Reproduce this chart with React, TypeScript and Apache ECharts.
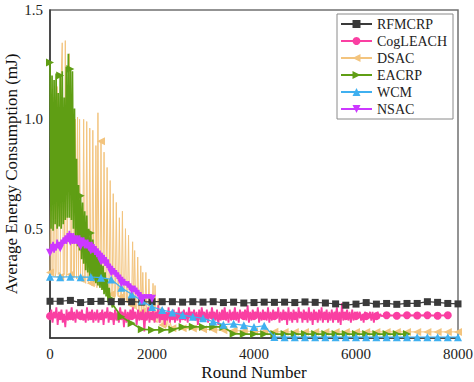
import React, { useEffect, useRef } from "react";
import * as echarts from "echarts";

// ---------- data ----------
const xTicks = [0, 2000, 4000, 6000, 8000];
const markerEvery = 200;

// RFMCRP: one value every 200 rounds, 0..8000
const rfmcrpStep = 200;
const rfmcrp = [
  0.168, 0.168, 0.172, 0.162, 0.167, 0.168, 0.166, 0.166, 0.166, 0.164,
  0.166, 0.166, 0.166, 0.164, 0.166, 0.164, 0.166, 0.162, 0.164, 0.16,
  0.162, 0.164, 0.163, 0.164, 0.162, 0.165, 0.163, 0.16, 0.156, 0.15,
  0.155, 0.162, 0.155, 0.158, 0.154, 0.158, 0.158, 0.166, 0.163, 0.158,
  0.156,
];

// WCM: one value every 200 rounds, 0..8000
const wcmStep = 200;
const wcm = [
  0.28, 0.278, 0.28, 0.278, 0.279, 0.276, 0.268, 0.23, 0.2, 0.17,
  0.142, 0.128, 0.117, 0.105, 0.097, 0.09, 0.075, 0.061, 0.065, 0.058,
  0.05, 0.056, 0.005, 0.004, 0.004, 0.004, 0.004, 0.004, 0.004, 0.004,
  0.004, 0.004, 0.004, 0.004, 0.004, 0.004, 0.004, 0.004, 0.004, 0.004,
  0.004,
];

// CogLEACH: noisy part every 25 rounds (0..6500), then every 200 rounds
const cogStep = 25;
const cogNoise = [
  0.1, 0.13, 0.07, 0.12, 0.09, 0.14, 0.06, 0.12, 0.1, 0.13, 0.07, 0.11, 0.05, 0.13, 0.08, 0.12, 0.1, 0.14, 0.08, 0.12,
  0.07, 0.13, 0.09, 0.12, 0.1, 0.13, 0.08, 0.11, 0.07, 0.14, 0.08, 0.12, 0.1, 0.13, 0.07, 0.12, 0.08, 0.13, 0.07, 0.11,
  0.1, 0.13, 0.06, 0.12, 0.09, 0.14, 0.07, 0.12, 0.1, 0.11, 0.06, 0.13, 0.08, 0.12, 0.07, 0.14, 0.1, 0.12, 0.05, 0.13,
  0.07, 0.12, 0.08, 0.13, 0.1, 0.14, 0.09, 0.12, 0.06, 0.13, 0.08, 0.12, 0.1, 0.13, 0.03, 0.12, 0.08, 0.14, 0.07, 0.12,
  0.1, 0.13, 0.07, 0.12, 0.09, 0.15, 0.07, 0.12, 0.1, 0.13, 0.06, 0.12, 0.08, 0.14, 0.07, 0.12, 0.1, 0.13, 0.07, 0.12,
  0.08, 0.14, 0.07, 0.12, 0.1, 0.13, 0.08, 0.12, 0.07, 0.14, 0.09, 0.12, 0.1, 0.13, 0.08, 0.12, 0.06, 0.13, 0.08, 0.14,
  0.1, 0.12, 0.08, 0.13, 0.07, 0.12, 0.09, 0.14, 0.1, 0.12, 0.08, 0.13, 0.06, 0.12, 0.08, 0.13, 0.1, 0.14, 0.08, 0.12,
  0.07, 0.13, 0.08, 0.12, 0.1, 0.14, 0.08, 0.12, 0.07, 0.13, 0.09, 0.12, 0.1, 0.13, 0.08, 0.15, 0.07, 0.12, 0.08, 0.13,
  0.1, 0.12, 0.09, 0.14, 0.07, 0.12, 0.08, 0.13, 0.1, 0.12, 0.08, 0.14, 0.07, 0.12, 0.08, 0.13, 0.1, 0.12, 0.09, 0.14,
  0.07, 0.12, 0.08, 0.13, 0.1, 0.12, 0.06, 0.14, 0.08, 0.12, 0.07, 0.13, 0.1, 0.12, 0.07, 0.14, 0.09, 0.12, 0.07, 0.13,
  0.1, 0.12, 0.07, 0.14, 0.08, 0.12, 0.06, 0.13, 0.1, 0.12, 0.07, 0.13, 0.08, 0.14, 0.07, 0.12, 0.1, 0.13, 0.07, 0.12,
  0.08, 0.13, 0.07, 0.12, 0.1, 0.14, 0.07, 0.12, 0.06, 0.16, 0.08, 0.12, 0.1, 0.13, 0.08, 0.12, 0.07, 0.13, 0.08, 0.12,
  0.1, 0.12, 0.09, 0.12, 0.08, 0.11, 0.07, 0.12, 0.1, 0.11, 0.09, 0.12, 0.08, 0.12, 0.07, 0.11, 0.1, 0.12, 0.09, 0.11,
  0.1,
];
const cogTailStart = 6600;
const cogTail = [0.104, 0.102, 0.104, 0.103, 0.104, 0.102, 0.104];

// DSAC: noisy part every 20 rounds (0..2400), then every 200 rounds from 2600
const dsacStep = 20;
const dsacNoise = [
  0.3, 1.05, 0.29, 0.3, 1.1, 0.28, 0.3, 1.15, 0.29, 0.3,
  0.28, 1.2, 1.35, 0.3, 0.29, 1.36, 0.28, 0.3, 1.2, 1.3,
  0.29, 0.28, 1.1, 0.29, 0.28, 1.0, 0.27, 1.01, 0.28, 1.0,
  0.27, 0.26, 0.27, 1.0, 0.26, 0.25, 0.99, 0.26, 0.25, 0.96,
  0.25, 0.24, 0.95, 0.25, 0.24, 0.88, 0.23, 1.03, 0.24, 0.23,
  0.9, 0.22, 0.23, 0.85, 0.22, 0.21, 0.78, 0.22, 0.21, 0.72,
  0.2, 0.21, 0.66, 0.2, 0.19, 0.62, 0.2, 0.19, 0.55, 0.18,
  0.19, 0.58, 0.18, 0.17, 0.5, 0.17, 0.16, 0.47, 0.16, 0.15,
  0.15, 0.44, 0.14, 0.4, 0.14, 0.13, 0.37, 0.13, 0.12, 0.33,
  0.12, 0.3, 0.11, 0.12, 0.3, 0.11, 0.1, 0.27, 0.1, 0.09,
  0.09, 0.25, 0.08, 0.24, 0.08, 0.07, 0.18, 0.07, 0.07, 0.14,
  0.06, 0.06, 0.12, 0.06, 0.05, 0.09, 0.05, 0.05, 0.07, 0.05,
  0.045,
];
const dsacTailStart = 2600;
const dsacTail = [
  0.045, 0.043, 0.04, 0.038, 0.036, 0.034, 0.032, 0.03, 0.03, 0.029,
  0.028, 0.028, 0.028, 0.028, 0.028, 0.028, 0.028, 0.028, 0.028, 0.028,
  0.028, 0.028, 0.028, 0.028, 0.028, 0.028, 0.028, 0.028,
];

// EACRP: noisy part every 20 rounds (0..1240), then every 200 rounds 1400..7000
const eacrpStep = 20;
const eacrpNoise = [
  1.26, 0.5, 1.2, 0.49, 1.18, 0.52, 1.21, 0.5, 1.12, 0.51,
  1.2, 0.5, 1.22, 0.52, 1.1, 0.54, 1.24, 0.55, 1.3, 0.55,
  1.23, 0.54, 1.22, 0.5, 1.05, 0.46, 0.82, 0.42, 0.7, 0.4,
  0.65, 0.36, 0.62, 0.34, 0.58, 0.31, 0.56, 0.3, 0.5, 0.28,
  0.48, 0.27, 0.45, 0.26, 0.42, 0.25, 0.4, 0.24, 0.38, 0.23,
  0.35, 0.22, 0.33, 0.2, 0.3, 0.19, 0.27, 0.17, 0.23, 0.16,
  0.18, 0.14, 0.15,
];
const eacrpTailStart = 1400;
const eacrpTail = [
  0.097, 0.068, 0.04, 0.037, 0.037, 0.038, 0.05, 0.052, 0.05, 0.052,
  0.05, 0.02, 0.018, 0.018, 0.018, 0.018, 0.018, 0.018, 0.018, 0.018,
  0.018, 0.018, 0.018, 0.018, 0.018, 0.018, 0.018, 0.018, 0.018,
];

// NSAC: every 20 rounds, 0..2000
const nsacStep = 20;
const nsac = [
  0.39, 0.43, 0.4, 0.44, 0.39, 0.43, 0.4, 0.45, 0.41, 0.44,
  0.41, 0.45, 0.42, 0.46, 0.43, 0.47, 0.43, 0.48, 0.44, 0.49,
  0.44, 0.48, 0.43, 0.48, 0.43, 0.47, 0.43, 0.47, 0.42, 0.47,
  0.42, 0.46, 0.42, 0.46, 0.41, 0.45, 0.41, 0.45, 0.4, 0.44,
  0.4, 0.44, 0.39, 0.43, 0.38, 0.42, 0.37, 0.41, 0.36, 0.4,
  0.35, 0.39, 0.34, 0.38, 0.33, 0.37, 0.32, 0.36, 0.31, 0.34,
  0.3, 0.33, 0.29, 0.32, 0.28, 0.31, 0.27, 0.3, 0.26, 0.29,
  0.25, 0.28, 0.24, 0.27, 0.24, 0.26, 0.23, 0.26, 0.22, 0.25,
  0.22, 0.24, 0.21, 0.24, 0.2, 0.23, 0.19, 0.22, 0.18, 0.21,
  0.17, 0.2, 0.18, 0.2, 0.18, 0.2, 0.18, 0.2, 0.18, 0.2,
  0.18,
];

// ---------- helpers ----------
const pts = (vals: number[], step: number, start = 0) =>
  vals.map((v, i) => [start + i * step, v]);

const FONT = "Liberation Serif, DejaVu Serif, serif";

const SYM_LEFT = "path://M10,0L0,5L10,10Z";
const SYM_RIGHT = "path://M0,0L10,5L0,10Z";
const SYM_DOWN = "path://M0,0L10,0L5,10Z";

function markerSize(size: number) {
  return (val: number[]) => (val[0] % markerEvery === 0 ? size : 0);
}

export default function App() {
  const ref = useRef<HTMLDivElement>(null);

  useEffect(() => {
    if (!ref.current) return;
    const chart = echarts.init(ref.current, undefined, { renderer: "svg" });

    const mk = (
      name: string,
      data: number[][],
      color: string,
      symbol: string,
      size: number,
      z: number,
      width = 1
    ) => ({
      name,
      type: "line",
      data,
      z,
      symbol,
      symbolSize: markerSize(size),
      showSymbol: true,
      color,
      itemStyle: { color, borderWidth: 0 },
      lineStyle: { color, width },
      emphasis: { disabled: true },
      silent: true,
    });

    const option = {
      animation: false,
      backgroundColor: "#ffffff",
      textStyle: { fontFamily: FONT },
      grid: {
        left: 50,
        right: 16,
        top: 10,
        bottom: 44,
        outerBoundsMode: "none",
        containLabel: false,
        show: true,
        borderColor: "#707070",
        borderWidth: 1.5,
        backgroundColor: "transparent",
      },
      legend: {
        data: ["RFMCRP", "CogLEACH", "DSAC", "EACRP", "WCM", "NSAC"],
        orient: "vertical",
        right: 21,
        top: 14,
        padding: [3, 6, 3, 3],
        itemWidth: 31,
        itemHeight: 10,
        itemGap: 3,
        backgroundColor: "#ffffff",
        borderColor: "#8a8a8a",
        borderWidth: 1,
        textStyle: { fontFamily: FONT, fontSize: 14, color: "#222", lineHeight: 14 },
      },
      xAxis: {
        type: "value",
        min: 0,
        max: 8000,
        interval: xTicks[1] - xTicks[0],
        name: "Round Number",
        nameLocation: "middle",
        nameGap: 26,
        nameMoveOverlap: false,
        nameTextStyle: { fontFamily: FONT, fontSize: 17, color: "#111" },
        axisLine: { show: true, onZero: false, lineStyle: { color: "#333", width: 1.5 } },
        axisTick: { show: false },
        splitLine: { show: false },
        axisLabel: {
          fontFamily: FONT,
          fontSize: 15,
          color: "#222",
          margin: 8,
          formatter: (v: number) => String(v),
        },
      },
      yAxis: {
        type: "value",
        min: 0,
        max: 1.5,
        interval: 0.5,
        name: "Average Energy Consumption (mJ)",
        nameLocation: "middle",
        nameRotate: 90,
        nameGap: 30,
        nameMoveOverlap: false,
        nameTextStyle: { fontFamily: FONT, fontSize: 17, color: "#111" },
        axisLine: { show: true, onZero: false, lineStyle: { color: "#333", width: 1.5 } },
        axisTick: { show: false },
        splitLine: { show: false },
        axisLabel: {
          fontFamily: FONT,
          fontSize: 15,
          color: "#222",
          margin: 7,
          formatter: (v: number) => (v === 0 ? "" : v.toFixed(1)),
        },
      },
      series: [
        mk("RFMCRP", pts(rfmcrp, rfmcrpStep), "#3a3a3a", "rect", 7, 5, 1.2),
        mk(
          "CogLEACH",
          pts(cogNoise, cogStep).concat(pts(cogTail, markerEvery, cogTailStart)),
          "#fa3fa2",
          "circle",
          8,
          3,
          1.8
        ),
        mk(
          "DSAC",
          pts(dsacNoise, dsacStep).concat(pts(dsacTail, markerEvery, dsacTailStart)),
          "#f3c47e",
          SYM_LEFT,
          8,
          2,
          1
        ),
        mk(
          "EACRP",
          pts(eacrpNoise, eacrpStep).concat(pts(eacrpTail, markerEvery, eacrpTailStart)),
          "#5f9e14",
          SYM_RIGHT,
          8,
          4,
          1.7
        ),
        mk("WCM", pts(wcm, wcmStep), "#3fb0f0", "triangle", 8, 6, 1.2),
        mk("NSAC", pts(nsac, nsacStep), "#cc38ff", SYM_DOWN, 8, 7, 1.7),
      ],
    };

    chart.setOption(option as any);
    return () => chart.dispose();
  }, []);

  return (
    <div
      ref={ref}
      style={{ position: "fixed", left: 0, top: 0, width: 474, height: 382, background: "#fff" }}
    />
  );
}
